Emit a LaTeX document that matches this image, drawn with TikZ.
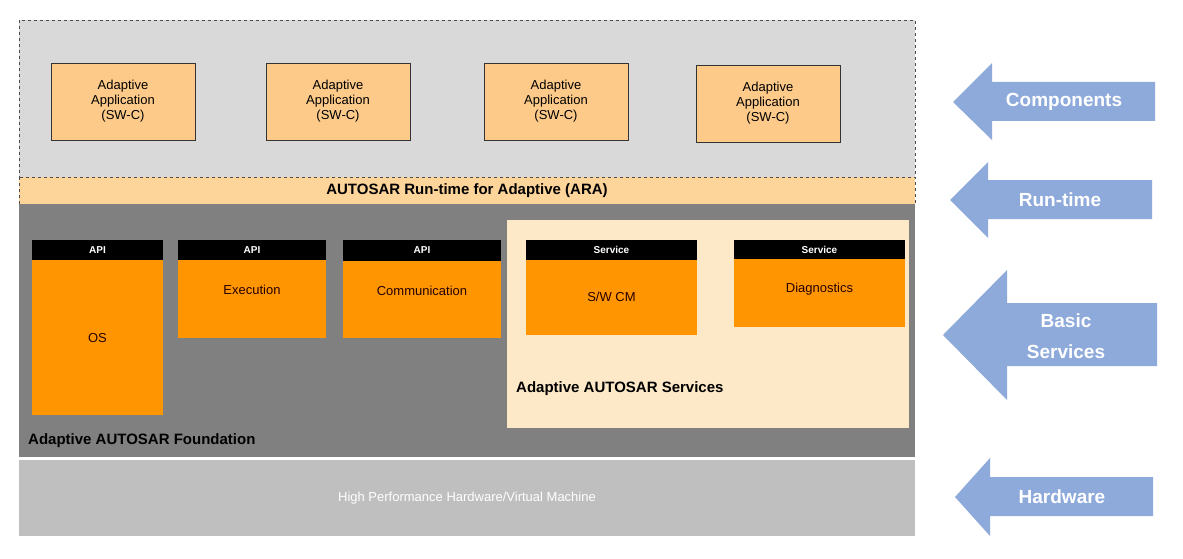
\documentclass[tikz,border=0pt]{standalone}
\usepackage{fontspec}
\setmainfont{Liberation Sans}
\begin{document}
\begin{tikzpicture}[x=1pt,y=-1pt,
 app/.style={draw=black!80,fill=appc,line width=0.8pt,align=center,font=\fontsize{13}{15}\selectfont,inner sep=0},
 hdr/.style={fill=black,text=white,font=\bfseries\fontsize{10}{11}\selectfont,inner sep=0},
 body/.style={fill=orc,text=black!85!red,font=\fontsize{13}{15}\selectfont,inner sep=0},
 arr/.style={fill=arrc,text=white,font=\bfseries\fontsize{19}{22}\selectfont}]
\definecolor{appc}{HTML}{FDCA8A}
\definecolor{orc}{HTML}{FF9500}
\definecolor{arac}{HTML}{FDD49A}
\definecolor{svc}{HTML}{FDE9C8}
\definecolor{arrc}{HTML}{8EAADB}
\useasboundingbox (0,0) rectangle (1183,559);
\fill[white] (0,0) rectangle (1183,559);
% top
\draw[dashed,fill=black!15,draw=black!70] (19,20) rectangle (915,177);
\node[app,minimum width=144,minimum height=77] (a1) at (123,101.5) {Adaptive\\Application\\(SW-C)};
\node[app,minimum width=144,minimum height=77] (a2) at (338,101.5) {Adaptive\\Application\\(SW-C)};
\node[app,minimum width=144,minimum height=77] (a3) at (556,101.5) {Adaptive\\Application\\(SW-C)};
\node[app,minimum width=144,minimum height=77] (a4) at (768,103.5) {Adaptive\\Application\\(SW-C)};
\draw[dashed,fill=arac,draw=black!70] (19,177) rectangle (915,204);
\node[font=\bfseries\fontsize{15}{17}\selectfont] (ara) at (467,191) {AUTOSAR Run-time for Adaptive (ARA)};
% foundation
\fill[black!50] (19,204) rectangle (915,457);
\fill[svc] (507,220) rectangle (909,428);
\foreach \n/\xa/\xb/\hb/\bb/\t/\ty/\h in {os/32/163/260/415/OS/338/API,ex/178/326/260/338/Execution/290/API,co/343/501/261/338/Communication/291/API,sw/526/697/260/335/{S{/}W CM}/297/Service,di/734/905/259/327/Diagnostics/289/Service}{
 \fill[black] (\xa,240) rectangle (\xb,\hb);
 \node[hdr] (\n h) at ({(\xa+\xb)/2},{(240+\hb)/2}) {\h};
 \fill[orc] (\xa,\hb) rectangle (\xb,\bb);
 \node[body] (\n) at ({(\xa+\xb)/2},\ty) {\t};
}
\node[anchor=west,font=\bfseries\fontsize{15}{17}\selectfont,inner sep=0] (svl) at (516,389) {Adaptive AUTOSAR Services};
\node[anchor=west,font=\bfseries\fontsize{15}{17}\selectfont,inner sep=0,text=black] (fdl) at (28,441) {Adaptive AUTOSAR Foundation};
% hardware
\fill[black!25] (19,460) rectangle (915,536);
\node[text=white,font=\fontsize{13}{15}\selectfont] (hw) at (467,498) {High Performance Hardware/Virtual Machine};
% arrows
\fill[arrc] (953,102) -- (992,63) -- (992,82) -- (1155,82) -- (1155,121) -- (992,121) -- (992,140) -- cycle;
\node[text=white,font=\bfseries\fontsize{19}{22}\selectfont] (r1) at (1064,102) {Components};
\fill[arrc] (950,200) -- (988,162) -- (988,180) -- (1152,180) -- (1152,219) -- (988,219) -- (988,238) -- cycle;
\node[text=white,font=\bfseries\fontsize{19}{22}\selectfont] (r2) at (1060,200) {Run-time};
\fill[arrc] (943,335) -- (1007,270) -- (1007,303) -- (1157,303) -- (1157,366) -- (1007,366) -- (1007,400) -- cycle;
\node[text=white,align=center,font=\bfseries\fontsize{19}{31}\selectfont] (r3) at (1066,336) {Basic\\Services};
\fill[arrc] (955,497) -- (990,458) -- (990,477) -- (1153,477) -- (1153,516) -- (990,516) -- (990,536) -- cycle;
\node[text=white,font=\bfseries\fontsize{19}{22}\selectfont] (r4) at (1062,497) {Hardware};
\end{tikzpicture}
\end{document}
